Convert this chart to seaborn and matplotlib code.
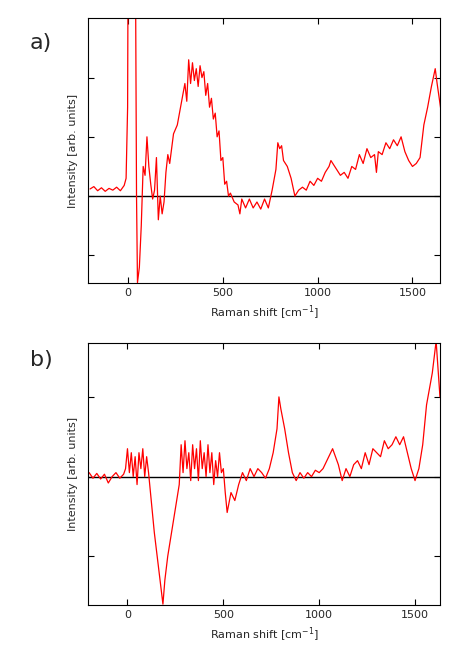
import matplotlib
matplotlib.use("Agg")
import matplotlib.pyplot as plt
import seaborn as sns
import pandas as pd

sns.set_theme(style="white")
plt.rcParams['font.family'] = ['DejaVu Sans']

xa = [-200,-180,-160,-140,-120,-100,-80,-60,-40,-20,-10,-2,0,40,45,50,60,70,80,90,100,110,120,130,140,150,160,170,180,190,200,210,220,240,260,280,300,310,320,330,340,350,360,370,380,390,400,410,420,430,440,450,460,470,480,490,500,510,520,530,540,560,580,590,600,620,640,660,680,700,720,740,760,780,790,800,810,820,840,860,880,900,920,940,960,980,1000,1020,1040,1060,1070,1080,1100,1120,1140,1160,1180,1200,1220,1240,1260,1280,1300,1310,1320,1340,1360,1380,1400,1420,1440,1460,1480,1500,1520,1540,1560,1580,1600,1620,1630,1650]
ya = [.12,.16,.09,.14,.08,.13,.10,.15,.09,.18,.3,1.5,3.5,3.5,0,-1.46,-1.2,-0.5,0.5,0.35,1.0,0.5,0.2,-0.05,0.1,0.65,-0.4,0.0,-0.3,-0.1,0.4,0.7,0.55,1.05,1.2,1.55,1.9,1.6,2.3,1.9,2.25,1.95,2.15,1.85,2.2,2.0,2.1,1.7,1.9,1.5,1.65,1.3,1.4,1.0,1.1,0.6,0.65,0.2,0.25,0.0,0.05,-0.1,-0.15,-0.3,-0.05,-0.2,-0.05,-0.2,-0.1,-0.22,-0.05,-0.2,0.1,0.45,0.9,0.8,0.85,0.6,0.5,0.3,0.0,0.1,0.15,0.1,0.25,0.18,0.3,0.25,0.4,0.5,0.6,0.55,0.45,0.35,0.4,0.3,0.5,0.45,0.7,0.55,0.8,0.65,0.7,0.4,0.75,0.7,0.9,0.8,0.95,0.85,1.0,0.75,0.6,0.5,0.55,0.65,1.2,1.5,1.85,2.15,1.9,1.45]

xb = [-200,-180,-160,-140,-120,-100,-80,-60,-40,-20,-10,0,10,20,30,40,50,60,70,80,90,100,110,120,140,160,175,185,195,210,230,250,270,280,290,300,310,320,330,340,350,360,370,380,390,400,410,420,430,440,450,460,470,480,490,500,510,520,540,560,580,600,620,640,660,680,700,720,740,760,780,790,800,820,840,860,880,900,920,940,960,980,1000,1020,1040,1070,1100,1120,1140,1160,1180,1200,1220,1240,1260,1280,1300,1320,1340,1360,1380,1400,1420,1440,1460,1480,1500,1520,1540,1560,1590,1610,1630]
yb = [.05,-.02,.04,-.03,.03,-.08,.0,.05,-.02,.03,.1,.35,.05,.3,.0,.25,-.1,.3,.1,.35,.0,.25,.05,-.2,-.7,-1.1,-1.4,-1.6,-1.3,-1.0,-.7,-.4,-.1,.4,.05,.45,.1,.3,-.05,.4,.1,.35,-.05,.45,.1,.3,.0,.4,.05,.3,-.1,.2,.0,.3,.05,.1,-.2,-.45,-.2,-.3,-.1,.05,-.05,.1,.0,.1,.05,-.02,.1,.3,.6,1.0,.85,.6,.3,.05,-.05,.05,-.02,.05,.0,.08,.05,.1,.2,.35,.15,-.05,.1,.0,.15,.2,.1,.3,.15,.35,.3,.25,.45,.35,.4,.5,.4,.5,.3,.1,-.05,.1,.4,.9,1.3,1.7,1.0]

fig = plt.figure(figsize=(4.74, 6.54), dpi=100)
ax1 = fig.add_axes([0.186, 0.567, 0.743, 0.405])
ax2 = fig.add_axes([0.186, 0.075, 0.743, 0.401])

for ax, x, y, xl, yl, yt in [(ax1, xa, ya, (-210, 1647), (-1.47, 3.0), [-1, 0, 1, 2]),
                             (ax2, xb, yb, (-205, 1632), (-1.61, 1.68), [-1, 0, 1])]:
    df = pd.DataFrame({"x": x, "y": y})
    ax.axhline(0, color="black", lw=1)
    sns.lineplot(data=df, x="x", y="y", ax=ax, color="red", lw=0.9, sort=False)
    ax.set_xlim(*xl)
    ax.set_ylim(*yl)
    ax.set_xticks([0, 500, 1000, 1500])
    ax.set_yticks(yt)
    ax.set_yticklabels([])
    ax.tick_params(direction="in", top=True, right=True, left=True, bottom=True,
                   length=4, width=0.8, color="black", labelsize=8)
    for s in ax.spines.values():
        s.set_color("black"); s.set_linewidth(0.8)
    ax.set_xlabel("Raman shift [cm$^{-1}$]", fontsize=8)
    ax.set_ylabel("Intensity [arb. units]", fontsize=8)

fig.text(0.063, 0.935, "a)", fontsize=16, ha="left", va="center")
fig.text(0.063, 0.45, "b)", fontsize=16, ha="left", va="center")
fig.savefig("out.png", dpi=100)
